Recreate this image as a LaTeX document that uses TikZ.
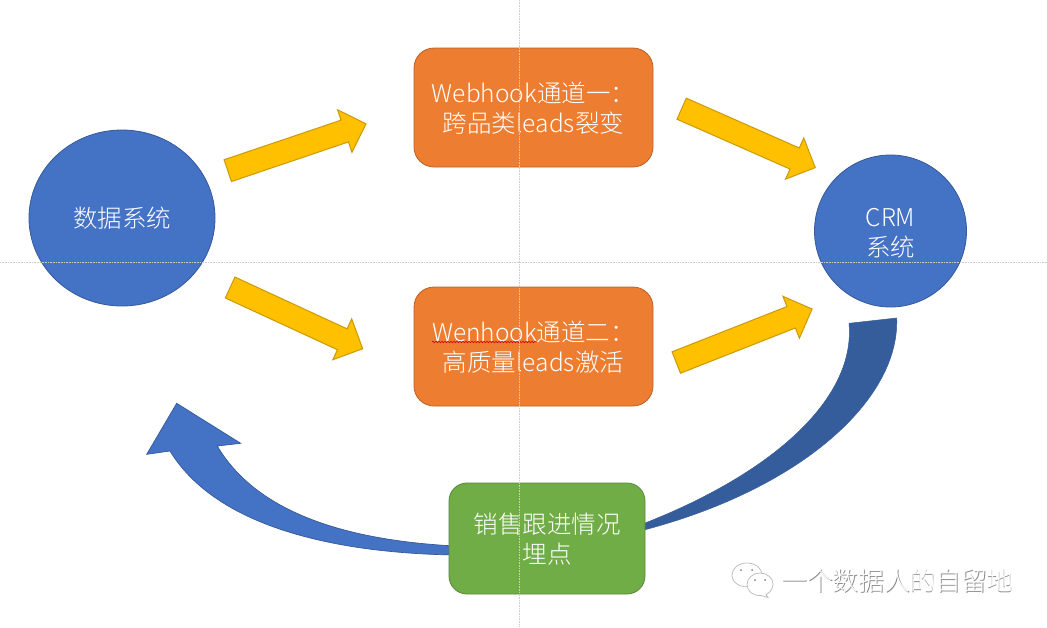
\documentclass[tikz,border=0pt]{standalone}
\usepackage{fontspec}
\usepackage{xcolor}
\setmainfont{Noto Sans CJK SC}[UprightFont=* Light]
\usetikzlibrary{shapes.arrows}
\usetikzlibrary{shapes.geometric}
\usetikzlibrary{decorations.pathmorphing}
\definecolor{circblue}{HTML}{4472C4}
\definecolor{darkblue}{HTML}{355C9B}
\definecolor{boxorange}{HTML}{ED7D31}
\definecolor{boxgreen}{HTML}{70AD47}
\definecolor{arrowgold}{HTML}{FFC000}
\newcommand{\downpad}{\rule{0pt}{22.5pt}}
\tikzset{
  bluecirc/.style={ellipse, draw=circblue!78!black, fill=circblue, text=white, inner sep=0pt, align=center, line width=0.8pt},
  chanbox/.style={rectangle, rounded corners=20pt, draw=boxorange!78!black, fill=boxorange, text=white, minimum width=239pt, minimum height=119pt, align=center, line width=0.8pt},
  salesbox/.style={rectangle, rounded corners=18pt, draw=boxgreen!78!black, fill=boxgreen, text=white, minimum width=196pt, minimum height=111pt, align=center, line width=0.8pt},
  goldarrow/.style={single arrow, draw=arrowgold!80!black, fill=arrowgold, line width=1pt, inner xsep=0pt, inner ysep=11pt, single arrow head extend=11pt, minimum width=44pt, minimum height=146pt, anchor=tail},
  guideline/.style={draw=gray!40, densely dotted, line width=0.6pt},
  bubble/.style={draw=gray!55, fill=white, line width=0.7pt}
}
\begin{document}
\begin{tikzpicture}[x=1pt, y=-1pt, font=\fontsize{24.5pt}{30pt}\selectfont]
\useasboundingbox (0,0) rectangle (1047,627);
\fill [white] (0,0) rectangle (1047,627);
% feedback arrows
\draw [draw=darkblue, fill=darkblue, line width=0.5pt] (849,323.3) -- (896.7,318) .. controls (900,400) and (800,490) .. (640,531) -- (640,525) .. controls (770,475) and (856,400) .. (849,323.3) -- cycle;
\draw [draw=circblue!78!black, fill=circblue, line width=0.7pt] (455,546) .. controls (340,540) and (255,510) .. (217.3,446) -- (240.7,443.3) -- (176.7,403.3) -- (146.7,454.3) -- (170,451) .. controls (215,525) and (330,553) .. (455,555) -- cycle;
% main blocks
\node [bluecirc, minimum width=186pt, minimum height=176pt] (DS) at (122,218) {数据系统};
\node [bluecirc, minimum width=152pt, minimum height=152pt] (CRM) at (890.5,231) {\downpad CRM\\系统};
\node [chanbox] (W1) at (533.5,107.5) {\downpad Webhook通道一：\\跨品类leads裂变};
\node [chanbox] (W2) at (533.5,346.5) {\downpad Wenhook通道二：\\高质量leads激活};
\node [salesbox] (SF) at (547,538.5) {\downpad 销售跟进情况\\埋点};
% yellow arrows
\node [goldarrow, rotate=18.7] (A1) at (227.3,170.8) {};
\node [goldarrow, rotate=-24.8] (A2) at (229.7,287.3) {};
\node [goldarrow, rotate=-23.8] (A3) at (681.2,108.5) {};
\node [goldarrow, rotate=21.5] (A4) at (675.8,362.7) {};
% spell mark
\coordinate (SL) at (432,342);
\coordinate (SR) at (536,342);
\draw [red!80!black, line width=0.6pt, decorate, decoration={snake, amplitude=0.7pt, segment length=3pt}] (SL) -- (SR);
% guides
\coordinate (VT) at (519,0);
\coordinate (VB) at (519,627);
\coordinate (HL) at (0,262);
\coordinate (HR) at (1047,262);
\draw [guideline] (VT) -- (VB);
\draw [guideline] (HL) -- (HR);
% watermark
\draw [bubble] (757,586) -- (758,590) -- (751,586.5) .. controls (742,588) and (732,584) .. (732,575) .. controls (732,568) and (739,563) .. (747,563) .. controls (755,563) and (762,568) .. (762,575) -- cycle;
\draw [bubble] (760,573) .. controls (767,573) and (773,578) .. (773,584) .. controls (773,590) and (768,594) .. (766,594.5) -- (768,597.5) -- (761,595.5) .. controls (753,596) and (747,591) .. (747,584.5) .. controls (747,578) and (753,573) .. (760,573) -- cycle;
\fill [gray] (741,570) circle (1pt) (752,570) circle (1pt) (755,580) circle (1pt) (765,580) circle (1pt);
\node [text=gray!90, font=\fontsize{25.7pt}{30pt}\selectfont, inner sep=0pt] (WMS) at (898,581.8) {一个数据人的自留地};
\node [text=white, font=\fontsize{25.7pt}{30pt}\selectfont, inner sep=0pt] (WM) at (897.2,581) {一个数据人的自留地};
\end{tikzpicture}
\end{document}
